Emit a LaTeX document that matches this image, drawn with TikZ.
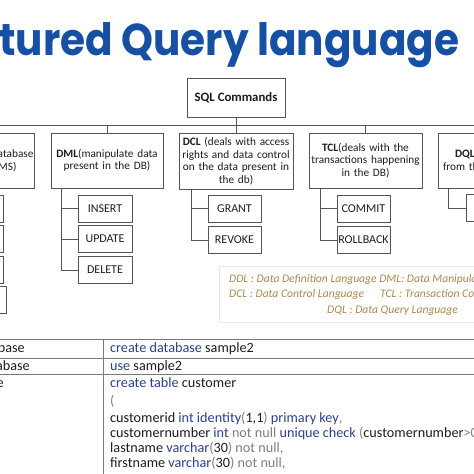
\documentclass[tikz,border=0pt]{standalone}
\usepackage{fontspec}
\setmainfont{Carlito}
\newfontfamily\titlefont{Poppins}[UprightFont=* Bold]
\definecolor{titleblue}{RGB}{22,80,165}
\definecolor{titlelight}{RGB}{140,175,220}
\definecolor{boxline}{RGB}{85,85,85}
\definecolor{txt}{RGB}{30,30,30}
\definecolor{legendc}{RGB}{170,138,80}
\definecolor{legendb}{RGB}{235,235,235}
\definecolor{sqlb}{RGB}{45,65,140}
\definecolor{sqlg}{RGB}{128,128,128}
\definecolor{rule}{RGB}{120,120,120}
\newcommand{\kw}[1]{\textcolor{sqlb}{#1}}
\newcommand{\gr}[1]{\textcolor{sqlg}{#1}}
\tikzset{
  cmdbox/.style={draw=boxline, line width=0.8pt, fill=white, text=txt, align=center,
    inner sep=0.5pt, font=\fontsize{11.3}{12.5}\selectfont},
  catbox/.style={cmdbox, minimum width=#1, minimum height=55pt, text width=#1-1pt},
  leafbox/.style={cmdbox, minimum width=54pt, minimum height=27pt, font=\fontsize{12}{13}\selectfont},
  link/.style={draw=boxline, line width=0.8pt},
  sqltext/.style={anchor=base west, inner sep=0pt, text=txt, font=\fontsize{14.2}{15}\selectfont},
  legtext/.style={anchor=base west, inner sep=0pt, text=legendc, font=\fontsize{11.6}{12.5}\selectfont\itshape},
  tabrule/.style={draw=rule, line width=0.7pt}
}
\begin{document}
\begin{tikzpicture}[x=1pt,y=-1pt]
\useasboundingbox (0,0) rectangle (474,474);
\clip (0,0) rectangle (474,474);
\fill[white] (0,0) rectangle (474,474);
% title
\node[anchor=base west, inner sep=0pt, text=titleblue] (title) at (-1,55)
  {\resizebox{460pt}{33pt}{\titlefont tured Query language}};
\node[anchor=base west, inner sep=0pt, text=titlelight, font=\titlefont\fontsize{40}{40}\selectfont] (titlecut) at (471,55) {(};
% root
\node[cmdbox, minimum width=98pt, minimum height=39pt, font=\fontsize{12.8}{14}\selectfont\bfseries] (sql) at (236,97.5) {SQL Commands};
\coordinate (bus) at (0,125);
% categories
\node[catbox=114pt, align=right] (ddl) at (-23,160.5) {\textbf{DDL}(define database\hspace*{6pt}\\ schema in DBMS)\hspace*{17pt}};
\node[catbox=112pt] (dml) at (107,160.5) {\textbf{DML}(manipulate data\\ present in the DB)};
\node[catbox=114pt, minimum height=56pt] (dcl) at (236,161) {\textbf{DCL} (deals with access\\ rights and data control\\ on the data present in\\ the db)};
\node[catbox=113pt] (tcl) at (365.5,160.5) {\textbf{TCL}(deals with the\\ transactions happening\\ in the DB)};
\node[cmdbox, minimum width=114pt, minimum height=55pt, text width=108pt, align=left] (dql) at (495,160.5) {\hspace*{14pt}\textbf{DQL}(fetch data\\ \hspace*{2pt}from the DB)};
% bus and drops
\draw[link] (ddl.north |- bus) -- (dql.north |- bus);
\draw[link] (sql.south) -- (dcl.north);
\foreach \n in {ddl,dml,tcl,dql} \draw[link] (\n.north |- bus) -- (\n.north);
% leaves
\node[leafbox] (ddl1) at (-24,208.5) {CREATE\hspace*{6pt}};
\node[leafbox] (ddl2) at (-24,239) {ALTER\hspace*{6pt}};
\node[leafbox] (ddl3) at (-24,270) {DROP\hspace*{6pt}};
\node[leafbox] (ddl4) at (-24,300) {TRUNCATE\hspace*{8pt}};
\node[leafbox] (insert) at (105,208.5) {INSERT};
\node[leafbox] (update) at (105,239) {UPDATE};
\node[leafbox] (delete) at (105,270) {DELETE};
\node[leafbox, minimum width=53pt] (grant) at (234.5,208.5) {GRANT};
\node[leafbox, minimum width=53pt] (revoke) at (234.5,240) {REVOKE};
\node[leafbox, minimum width=53pt] (commit) at (363.5,208.5) {COMMIT};
\node[leafbox, minimum width=53pt] (rollback) at (363.5,240) {ROLLBACK};
\node[leafbox] (select) at (493,208) {SELECT};
% trunks
\coordinate (ddlt) at ([xshift=12pt]ddl.south west);
\coordinate (dmlt) at ([xshift=11pt]dml.south west);
\coordinate (dclt) at ([xshift=13pt]dcl.south west);
\coordinate (tclt) at ([xshift=12pt]tcl.south west);
\coordinate (dqlt) at ([xshift=11pt]dql.south west);
\foreach \c in {ddl1,ddl2,ddl3,ddl4} \draw[link] (ddlt) |- (\c.west);
\foreach \c in {insert,update,delete} \draw[link] (dmlt) |- (\c.west);
\foreach \c in {grant,revoke} \draw[link] (dclt) |- (\c.west);
\foreach \c in {commit,rollback} \draw[link] (tclt) |- (\c.west);
\draw[link] (dqlt) |- (select.west);
% legend
\node[draw=legendb, line width=0.6pt, fill=white, minimum width=341pt, minimum height=56pt, inner sep=0pt] (legend) at (389.5,294) {};
\node[legtext] (leg1) at (229,282) {DDL : Data Definition Language DML: Data Manipulation Language};
\node[legtext] (leg2) at (229,297) {DCL : Data Control Language};
\node[legtext] (leg3) at (380,297) {TCL : Transaction Control Language};
\node[legtext] (leg4) at (327,313) {DQL : Data Query Language};
% table
\draw[tabrule, line width=1pt] (0,339) -- (474,339);
\draw[tabrule] (0,358) -- (474,358);
\draw[tabrule] (0,374) -- (474,374);
\draw[tabrule] (103,339) -- (103,474);
\node[sqltext, anchor=base east] (l1) at (25,352) {Create database};
\node[sqltext, anchor=base east] (l2) at (30,370) {Use database};
\node[sqltext, anchor=base east] (l3) at (4,387) {Create table};
\node[sqltext] (r1) at (110,352) {\kw{create database} sample2};
\node[sqltext] (r2) at (110,370) {\kw{use} sample2};
\node[sqltext] (r3) at (110,387) {\kw{create table} customer};
\node[sqltext] (r4) at (110,405) {\gr{(}};
\node[sqltext] (r5) at (110,422) {customerid \kw{int identity}\gr{(}1,1\gr{)} \kw{primary key}\gr{,}};
\node[sqltext] (r6) at (110,437) {customernumber \kw{int} \gr{not null} \kw{unique check} \gr{(}customernumber\gr{>0)}};
\node[sqltext] (r7) at (110,452) {lastname \kw{varchar}\gr{(}30\gr{) not null,}};
\node[sqltext] (r8) at (110,467) {firstname \kw{varchar}\gr{(}30\gr{) not null,}};
\end{tikzpicture}
\end{document}
